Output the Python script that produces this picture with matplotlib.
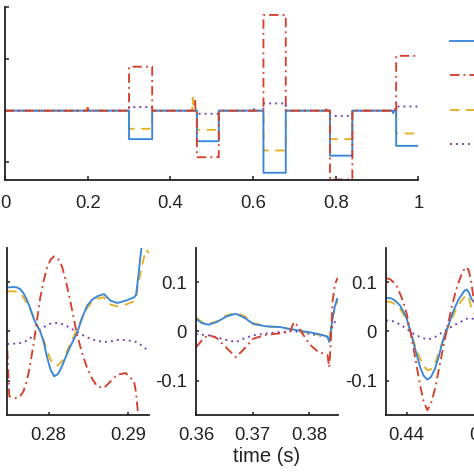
import numpy as np
import matplotlib
matplotlib.use("Agg")
import matplotlib.pyplot as plt

plt.rcParams['font.family'] = ['Liberation Sans', 'DejaVu Sans']
plt.rcParams['axes.unicode_minus'] = False

# ---------------- data ----------------
series_names = ['reference', 'controller A', 'controller B', 'controller C']
colors = ['#3A86D9', '#D6402B', '#E3B125', '#6B3FB5']

# top panel: piecewise-constant signals
step_start = [0.300, 0.464, 0.625, 0.786, 0.946]
step_end = [0.356, 0.517, 0.679, 0.840, 1.000]
levels_blue = [-0.55, -0.59, -1.20, -0.87, -0.68]
levels_red = [0.85, -0.90, 1.85, -1.33, 1.06]
levels_yellow = [-0.35, -0.37, -0.77, -0.55, -0.44]
levels_purple = [0.07, -0.06, 0.14, -0.10, 0.08]

# short transients on the baseline (time, value)
spike_t_blue = [0.602, 0.939]
spike_v_blue = [0.03, -0.05]
spike_t_red = [0.200, 0.4595, 0.776, 0.944]
spike_v_red = [0.05, 0.21, 0.06, 0.06]
spike_t_yellow = [0.200, 0.454, 0.776]
spike_v_yellow = [0.06, 0.25, 0.07]
spike_t_purple = [0.602]
spike_v_purple = [0.04]

top_xticks = [0, 0.2, 0.4, 0.6, 0.8, 1.0]
top_xticklabels = ['0', '0.2', '0.4', '0.6', '0.8', '1']
top_yticks = [-1, 0, 1, 2]

# zoom panel 1
p1_t = [0.27483, 0.27508, 0.27559, 0.27601, 0.27643, 0.27685, 0.27727, 0.27769,
        0.27811, 0.27853, 0.27895, 0.27937, 0.27979, 0.28025, 0.28071, 0.28118,
        0.28168, 0.28218, 0.28273, 0.28315, 0.28357, 0.28420, 0.28483, 0.28546,
        0.28609, 0.28693, 0.28777, 0.28861, 0.28966, 0.29071, 0.29097, 0.29122,
        0.29147, 0.29164, 0.29218, 0.29261]
p1_blue = [0.0894, 0.0894, 0.0901, 0.0894, 0.0860, 0.0779, 0.0644, 0.0474,
           0.0271, 0.0122, 0.0, -0.0203, -0.0508, -0.0779, -0.0915, -0.0867,
           -0.0711, -0.0508, -0.0305, -0.0169, -0.0034, 0.0271, 0.0522, 0.0644,
           0.0711, 0.0759, 0.0623, 0.0576, 0.0623, 0.0691, 0.0745, 0.1084,
           0.1457, 0.1694, 0.1965, 0.2033]
p1_red = [-0.0373, -0.1321, -0.1355, -0.1355, -0.1321, -0.1220, -0.1016, -0.0678,
          -0.0271, 0.0203, 0.0678, 0.1016, 0.1287, 0.1457, 0.1524, 0.1477,
          0.1321, 0.1016, 0.0610, 0.0271, -0.0068, -0.0440, -0.0745, -0.0962,
          -0.1118, -0.1152, -0.1016, -0.0881, -0.0847, -0.1016, -0.1253, -0.1694,
          -0.2100, -0.2236, -0.2778, -0.3117]
p1_yellow = [0.0813, 0.0813, 0.0813, 0.0806, 0.0779, 0.0691, 0.0576, 0.0440,
             0.0305, 0.0149, 0.0, -0.0169, -0.0373, -0.0576, -0.0691, -0.0691,
             -0.0610, -0.0461, -0.0237, -0.0102, 0.0034, 0.0271, 0.0474, 0.0596,
             0.0664, 0.0691, 0.0542, 0.0508, 0.0542, 0.0610, 0.0678, 0.0949,
             0.1152, 0.1287, 0.1660, 0.1592]
p1_purple = [-0.0257, -0.0257, -0.0251, -0.0244, -0.0237, -0.0217, -0.0190, -0.0142,
             -0.0088, -0.0027, 0.0034, 0.0081, 0.0122, 0.0156, 0.0169, 0.0169,
             0.0149, 0.0115, 0.0068, 0.0027, -0.0014, -0.0068, -0.0122, -0.0163,
             -0.0190, -0.0217, -0.0203, -0.0176, -0.0176, -0.0203, -0.0217, -0.0237,
             -0.0264, -0.0285, -0.0352, -0.0407]

# zoom panel 2
p2_t = [0.36, 0.361, 0.36218, 0.36365, 0.36541, 0.36706, 0.36865, 0.37012,
        0.37247, 0.37482, 0.37659, 0.37729, 0.37806, 0.37894, 0.38012, 0.38159,
        0.38276, 0.38324, 0.38353, 0.38376, 0.38412, 0.38453, 0.38494, 0.38518]
p2_blue = [0.0257, 0.0169, 0.0135, 0.0189, 0.0304, 0.0358, 0.0270, 0.0149,
           0.0101, 0.0088, 0.0047, 0.0034, 0.0020, 0.0, -0.0020, -0.0054,
           -0.0088, -0.0108, -0.0216, -0.0068, 0.0270, 0.0507, 0.0662, 0.0642]
p2_red = [-0.0324, -0.0189, -0.0068, -0.0135, -0.0338, -0.0527, -0.0338, -0.0149,
          -0.0068, -0.0041, -0.0014, 0.0189, 0.0101, -0.0068, -0.0270, -0.0419,
          -0.0459, -0.0486, -0.0730, -0.0338, 0.0608, 0.0946, 0.1068, 0.1081]
p2_yellow = [0.0284, 0.0189, 0.0149, 0.0203, 0.0324, 0.0378, 0.0304, 0.0169,
             0.0101, 0.0081, 0.0047, 0.0034, 0.0, -0.0014, -0.0034, -0.0068,
             -0.0088, -0.0068, -0.0101, 0.0, 0.0270, 0.0439, 0.0608, 0.0622]
p2_purple = [-0.0054, -0.0068, -0.0081, -0.0122, -0.0176, -0.0216, -0.0135, -0.0081,
             -0.0041, -0.0014, 0.0, 0.0007, -0.0014, -0.0034, -0.0054, -0.0081,
             -0.0101, -0.0101, -0.0068, -0.0054, 0.0101, 0.0189, 0.0236, 0.0236]

# zoom panel 3
p3_t = [0.43745, 0.43794, 0.43835, 0.43877, 0.43918, 0.43959, 0.44, 0.44041,
        0.44082, 0.44123, 0.44165, 0.44210, 0.44255, 0.44300, 0.44350, 0.44391,
        0.44432, 0.44473, 0.44514, 0.44556, 0.44597, 0.44638, 0.44679, 0.44712,
        0.44741, 0.44765, 0.44790, 0.44811, 0.44831, 0.44885]
p3_blue = [0.0682, 0.0676, 0.0649, 0.0595, 0.0527, 0.0405, 0.0257, 0.0034,
           -0.0216, -0.0473, -0.0723, -0.0905, -0.0980, -0.0926, -0.0757, -0.0541,
           -0.0284, -0.0047, 0.0122, 0.0324, 0.0493, 0.0642, 0.0743, 0.0824,
           0.0851, 0.0797, 0.0696, 0.0628, 0.0595, 0.0561]
p3_red = [0.1081, 0.1061, 0.1000, 0.0919, 0.0764, 0.0595, 0.0358, 0.0034,
          -0.0318, -0.0703, -0.1095, -0.1432, -0.1601, -0.1466, -0.1162, -0.0824,
          -0.0486, -0.0149, 0.0176, 0.0493, 0.0764, 0.0986, 0.1169, 0.1270,
          0.1304, 0.1236, 0.1068, 0.0831, 0.0595, 0.0392]
p3_yellow = [0.0608, 0.0601, 0.0574, 0.0527, 0.0459, 0.0351, 0.0223, 0.0020,
             -0.0182, -0.0385, -0.0554, -0.0703, -0.0791, -0.0770, -0.0655, -0.0453,
             -0.0250, -0.0068, 0.0088, 0.0257, 0.0405, 0.0527, 0.0628, 0.0696,
             0.0743, 0.0696, 0.0527, 0.0426, 0.0358, 0.0324]
p3_purple = [0.0223, 0.0216, 0.0203, 0.0176, 0.0135, 0.0095, 0.0054, 0.0,
             -0.0047, -0.0081, -0.0115, -0.0142, -0.0162, -0.0149, -0.0115, -0.0074,
             -0.0027, 0.0014, 0.0054, 0.0095, 0.0135, 0.0169, 0.0203, 0.0230,
             0.0257, 0.0264, 0.0270, 0.0257, 0.0243, 0.0223]

zoom_xlims = [(0.27483, 0.29256), (0.36, 0.385), (0.43745, 0.4549)]
zoom_xticks = [[0.28, 0.29], [0.36, 0.37, 0.38], [0.44, 0.45]]
zoom_xticklabels = [['0.28', '0.29'], ['0.36', '0.37', '0.38'], ['0.44', '0.45']]
zoom_yticks = [-0.1, 0, 0.1]
zoom_yticklabels = ['-0.1', '0', '0.1']
xlabel_text = 'time (s)'

# ---------------- styles ----------------
lw = 1.35
styles = [dict(linestyle='-'),
          dict(linestyle=(0, (5, 2.2, 1, 2.2))),
          dict(linestyle=(0, (5, 3.5))),
          dict(linestyle=(0, (1, 2.2)))]
spine_col = '#222222'
FS = 13.3


def build_steps(starts, ends, levels, sp_t, sp_v, w=0.0015):
    ev = []
    for s, e, lv in zip(starts, ends, levels):
        ev += [(s, 0.0), (s, lv), (e, lv)]
        if e < 1.0:
            ev.append((e, 0.0))
    for ts, vs in zip(sp_t, sp_v):
        ev += [(ts - w, 0.0), (ts, vs), (ts + w, 0.0)]
    ev.sort(key=lambda p: p[0])
    t = [0.0] + [p[0] for p in ev]
    v = [0.0] + [p[1] for p in ev]
    return t, v


def style_axes(ax, ticklen):
    for s in ['top', 'right']:
        ax.spines[s].set_visible(False)
    for s in ['left', 'bottom']:
        ax.spines[s].set_linewidth(1.3)
        ax.spines[s].set_color(spine_col)
    ax.tick_params(direction='in', length=ticklen, width=1.1, colors=spine_col,
                   labelcolor='#222222', labelsize=FS)


fig = plt.figure(figsize=(4.74, 4.74), dpi=100)
W = H = 474.0

# top axes
ax_top = fig.add_axes([5 / W, 1 - 180 / H, 413.5 / W, 173.3 / H])
top_sets = [(levels_blue, spike_t_blue, spike_v_blue),
            (levels_red, spike_t_red, spike_v_red),
            (levels_yellow, spike_t_yellow, spike_v_yellow),
            (levels_purple, spike_t_purple, spike_v_purple)]
order = [3, 2, 0, 1]
handles = [None] * 4
for i in order:
    lv, st, sv = top_sets[i]
    t, v = build_steps(step_start, step_end, lv, st, sv)
    h, = ax_top.plot(t, v, color=colors[i], lw=lw, **styles[i], label=series_names[i])
    handles[i] = h
ax_top.set_xlim(0, 1)
ax_top.set_ylim(-1.34, 2.01)
ax_top.set_xticks(top_xticks)
ax_top.set_xticklabels(top_xticklabels)
ax_top.set_yticks(top_yticks)
ax_top.set_yticklabels([])  # labels lie outside the cropped view
style_axes(ax_top, 3.0)
ax_top.tick_params(axis='x', pad=10.5)

fig.legend(handles=handles, labels=series_names, loc='upper left',
           bbox_to_anchor=(450 / W, 1 - 34 / H), frameon=False, fontsize=FS,
           borderpad=0, borderaxespad=0, handlelength=2.2, labelspacing=0.95,
           handletextpad=0.6)

# zoom panels
panel_lefts = [7.3, 196, 386]
panel_data = [(p1_t, [p1_blue, p1_red, p1_yellow, p1_purple]),
              (p2_t, [p2_blue, p2_red, p2_yellow, p2_purple]),
              (p3_t, [p3_blue, p3_red, p3_yellow, p3_purple])]
zoom_axes = []
for k in range(3):
    ax = fig.add_axes([panel_lefts[k] / W, 1 - 415 / H, 141.5 / W, 167.3 / H])
    tt, ys = panel_data[k]
    for i in order:
        ax.plot(tt, ys[i], color=colors[i], lw=lw, **styles[i])
    ax.set_xlim(*zoom_xlims[k])
    ax.set_ylim(-0.17, 0.17)
    ax.set_xticks(zoom_xticks[k])
    ax.set_xticklabels(zoom_xticklabels[k])
    ax.set_yticks(zoom_yticks)
    if k == 0:
        ax.set_yticklabels([])  # outside the cropped view
    else:
        ax.set_yticklabels(zoom_yticklabels)
    style_axes(ax, 2.4)
    ax.tick_params(axis='x', pad=8.5)
    ax.tick_params(axis='y', pad=6.5)
    zoom_axes.append(ax)

zoom_axes[1].set_xlabel(xlabel_text, fontsize=14.5, color='#222222', labelpad=2)

fig.savefig('out.png', dpi=100)
